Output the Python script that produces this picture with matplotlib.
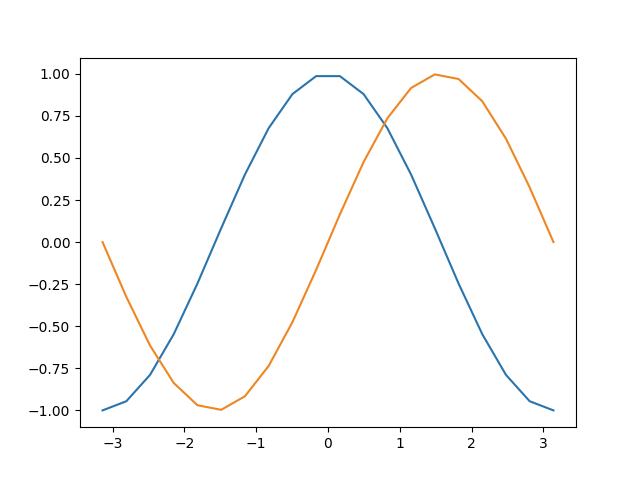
import matplotlib
matplotlib.use("Agg")
import matplotlib.pyplot as plt

# values
x_vals = [-3.1416, -2.8109, -2.4802, -2.1495, -1.8188, -1.4881, -1.1574, -0.8267, -0.4960, -0.1653,
          0.1653, 0.4960, 0.8267, 1.1574, 1.4881, 1.8188, 2.1495, 2.4802, 2.8109, 3.1416]
blue_vals = [-1.0, -0.9458, -0.7891, -0.5469, -0.2455, 0.0826, 0.4017, 0.6773, 0.8795, 0.9864,
             0.9864, 0.8795, 0.6773, 0.4017, 0.0826, -0.2455, -0.5469, -0.7891, -0.9458, -1.0]
orange_vals = [0.0, -0.3247, -0.6142, -0.8372, -0.9694, -0.9966, -0.9158, -0.7357, -0.4759, -0.1646,
               0.1646, 0.4759, 0.7357, 0.9158, 0.9966, 0.9694, 0.8372, 0.6142, 0.3247, 0.0]

fig, ax = plt.subplots(figsize=(6.4, 4.8), dpi=100)
ax.plot(x_vals, blue_vals, color="#2874ad")
ax.plot(x_vals, orange_vals, color="#ee8622")
plt.savefig("out.png")
